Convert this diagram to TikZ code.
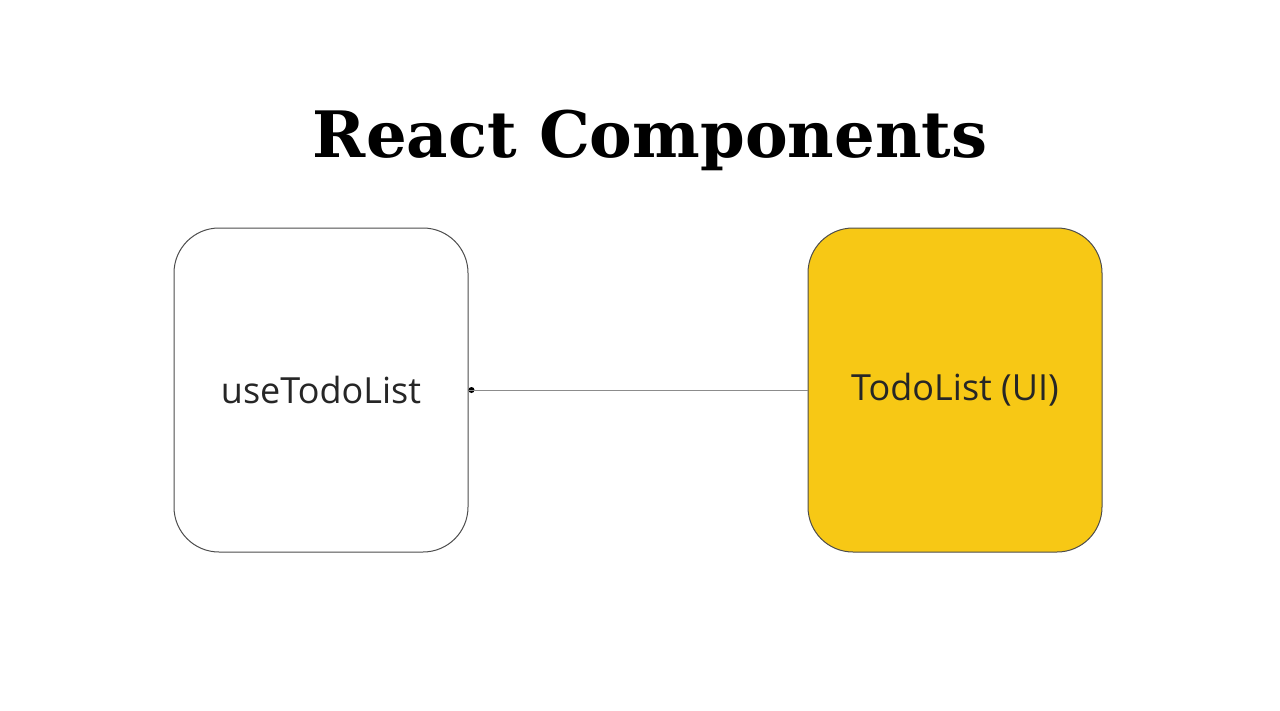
\documentclass[tikz,border=0pt]{standalone}
\usepackage{fontspec}
\setmainfont{Open Sans}
\newfontfamily\titlefont{DejaVu Serif}
\definecolor{uiyellow}{HTML}{F7C815}
\begin{document}
\begin{tikzpicture}[x=1pt,y=-1pt,
  compbox/.style={draw=black!70, line width=1pt, rounded corners=45pt, minimum width=294pt, minimum height=324pt, font=\fontsize{36}{42}\selectfont, text=black!85}]
  \useasboundingbox (0,0) rectangle (1280,710);
  \node[font=\titlefont\bfseries\fontsize{64}{72}\selectfont] (title) at (650,140) {React Components};
  \node[compbox] (hook) at (321,390) {useTodoList};
  \node[compbox, fill=uiyellow] (ui) at (955,390) {TodoList (UI)};
  \fill (hook.east) ++(3,0) circle (3pt);
  \draw[black!45, line width=1pt] (hook.east) -- (ui.west);
\end{tikzpicture}
\end{document}
